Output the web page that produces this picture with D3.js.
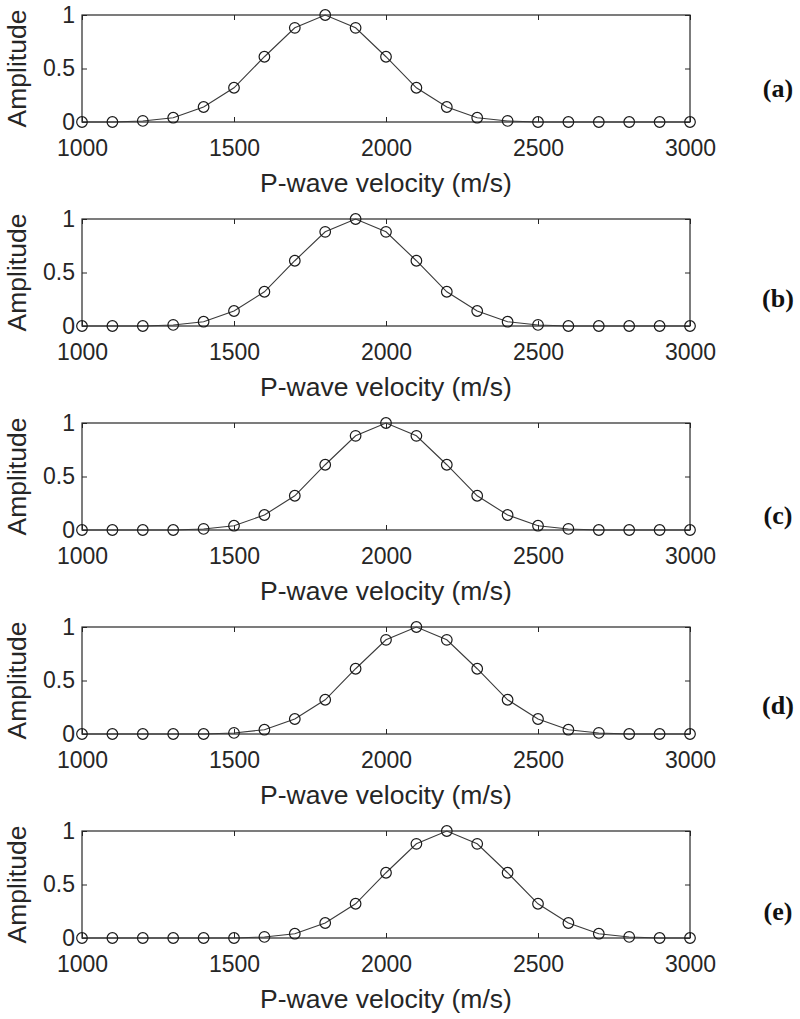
<!DOCTYPE html>
<html>
<head>
<meta charset="utf-8">
<script src="https://cdn.jsdelivr.net/npm/d3@7"></script>
<style>
	body { margin: 0; background: #fff; }
	.tick text { font-family: 'Liberation Sans', Arial, Helvetica, sans-serif; font-size: 23px; fill: #262626; }
	.tick line { stroke: #262626; stroke-width: 1; }
	.axis-label { font-family: 'Liberation Sans', Arial, Helvetica, sans-serif; font-size: 26.5px; fill: #262626; }
	.panel-label { font-family: 'Liberation Serif', 'DejaVu Serif', serif; font-weight: bold; font-size: 26px; fill: #111; }
</style>
</head>
<body>
<div id="chart"></div>
<script>
// P-wave velocity samples (m/s)
var velocity = [1000, 1100, 1200, 1300, 1400, 1500, 1600, 1700, 1800, 1900, 2000,
	2100, 2200, 2300, 2400, 2500, 2600, 2700, 2800, 2900, 3000]

// amplitude
var ampA = [0, 0, 0.01, 0.04, 0.14, 0.32, 0.61, 0.88, 1, 0.88, 0.61, 0.32, 0.14, 0.04, 0.01, 0, 0, 0, 0, 0, 0]
var ampB = [0, 0, 0, 0.01, 0.04, 0.14, 0.32, 0.61, 0.88, 1, 0.88, 0.61, 0.32, 0.14, 0.04, 0.01, 0, 0, 0, 0, 0]
var ampC = [0, 0, 0, 0, 0.01, 0.04, 0.14, 0.32, 0.61, 0.88, 1, 0.88, 0.61, 0.32, 0.14, 0.04, 0.01, 0, 0, 0, 0]
var ampD = [0, 0, 0, 0, 0, 0.01, 0.04, 0.14, 0.32, 0.61, 0.88, 1, 0.88, 0.61, 0.32, 0.14, 0.04, 0.01, 0, 0, 0]
var ampE = [0, 0, 0, 0, 0, 0, 0.01, 0.04, 0.14, 0.32, 0.61, 0.88, 1, 0.88, 0.61, 0.32, 0.14, 0.04, 0.01, 0, 0]

var panels = [ampA, ampB, ampC, ampD, ampE]
var panelNames = ['(a)', '(b)', '(c)', '(d)', '(e)']
var panelNameY = [88, 298, 515, 705, 911]

var xTicks = [1000, 1500, 2000, 2500, 3000]
var yTicks = [0, 0.5, 1]
var yTickLabels = ['0', '0.5', '1']

var xTitle = 'P-wave velocity (m/s)'
var yTitle = 'Amplitude'

var W = 800, H = 1019
var left = 82, right = 690
var firstTop = 15, plotH = 107, step = 204

var svg = d3.select('#chart').append('svg')
	.attr('width', W)
	.attr('height', H)

var xScale = d3.scaleLinear()
	.domain([1000, 3000])
	.range([0, right - left])

var yScale = d3.scaleLinear()
	.domain([0, 1])
	.range([plotH, 0])

var line = d3.line()
	.x(function(d, i) { return xScale(velocity[i]) })
	.y(function(d) { return yScale(d) })

panels.forEach(function(amp, p) {
	var top = firstTop + p * step
	var g = svg.append('g')
		.attr('transform', 'translate(' + left + ',' + top + ')')

	var w = right - left

	// bottom axis with labels, ticks pointing in
	g.append('g')
		.attr('transform', 'translate(0,' + plotH + ')')
		.call(d3.axisBottom(xScale)
			.tickValues(xTicks)
			.tickFormat(d3.format('d'))
			.tickSizeInner(-5)
			.tickSizeOuter(0)
			.tickPadding(17.5))
	// top mirror ticks
	g.append('g')
		.call(d3.axisTop(xScale)
			.tickValues(xTicks)
			.tickFormat('')
			.tickSizeInner(-5)
			.tickSizeOuter(0))
	// left axis
	g.append('g')
		.call(d3.axisLeft(yScale)
			.tickValues(yTicks)
			.tickFormat(function(d, i) { return yTickLabels[i] })
			.tickSizeInner(-5)
			.tickSizeOuter(0)
			.tickPadding(7))
	// right mirror ticks
	g.append('g')
		.attr('transform', 'translate(' + w + ',0)')
		.call(d3.axisRight(yScale)
			.tickValues(yTicks)
			.tickFormat('')
			.tickSizeInner(-5)
			.tickSizeOuter(0))

	g.selectAll('.domain').remove()

	g.append('rect')
		.attr('x', 0)
		.attr('y', 0)
		.attr('width', w)
		.attr('height', plotH)
		.attr('fill', 'none')
		.attr('stroke', '#262626')
		.attr('stroke-width', 1.2)

	g.append('path')
		.datum(amp)
		.attr('d', line)
		.attr('fill', 'none')
		.attr('stroke', '#3a3a3a')
		.attr('stroke-width', 1.1)

	g.selectAll('circle.pt')
		.data(amp)
		.enter().append('circle')
		.attr('class', 'pt')
		.attr('cx', function(d, i) { return xScale(velocity[i]) })
		.attr('cy', function(d) { return yScale(d) })
		.attr('r', 5.3)
		.attr('fill', 'none')
		.attr('stroke', '#1a1a1a')
		.attr('stroke-width', 1.2)

	g.append('text')
		.attr('class', 'axis-label')
		.attr('x', w / 2)
		.attr('y', plotH + 70)
		.style('text-anchor', 'middle')
		.text(xTitle)

	g.append('text')
		.attr('class', 'axis-label')
		.attr('transform', 'translate(' + (26 - left) + ',' + (plotH / 2) + ') rotate(-90)')
		.style('text-anchor', 'middle')
		.text(yTitle)

	svg.append('text')
		.attr('class', 'panel-label')
		.attr('x', 778)
		.attr('y', panelNameY[p])
		.attr('dy', '0.35em')
		.style('text-anchor', 'middle')
		.text(panelNames[p])
})
</script>
</body>
</html>
